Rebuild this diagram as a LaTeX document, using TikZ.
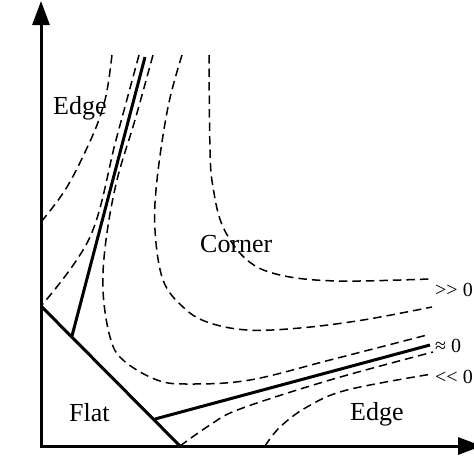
\documentclass[tikz,border=0pt]{standalone}
\usepackage{fontspec}
\setmainfont{Liberation Serif}[Ligatures=TeXOff]
\usetikzlibrary{arrows.meta}

\begin{document}
\begin{tikzpicture}[
    x=1pt, y=-1pt,
    axis/.style={line width=3pt, {Triangle[length=24pt,width=17pt]}-{Triangle[length=24pt,width=17pt]}},
    bound/.style={line width=3pt},
    level/.style={line width=1.5pt, dash pattern=on 8.5pt off 5pt},
    region/.style={font=\fontsize{26}{30}\selectfont, inner sep=0pt, anchor=base west},
    sign/.style={font=\fontsize{20}{22}\selectfont, inner sep=0pt, anchor=base west}
  ]
  \useasboundingbox (0,0) rectangle (474,474);

  % axes
  \coordinate (o) at (41,446);
  \coordinate (ytip) at (41,1);
  \coordinate (xtip) at (482,446);
  \draw [axis] (ytip) -- (o) -- (xtip);

  % flat boundary and edge lines
  \coordinate (fa) at (41,306);
  \coordinate (fb) at (180,446);
  \coordinate (la) at (72,336);
  \coordinate (lb) at (145,57);
  \coordinate (ra) at (155,419);
  \coordinate (rb) at (430,345);
  \draw [bound] (fa) -- (fb);
  \draw [bound] (la) -- (lb);
  \draw [bound] (ra) -- (rb);

  % level curves
  \draw [level] plot [smooth, tension=0.6] coordinates {(112,55) (108,85) (103,107) (92,137) (67,187) (41,222)};
  \draw [level] plot [smooth, tension=0.6] coordinates {(139,55) (116,140) (90,237) (fa)};
  \draw [level] plot [smooth, tension=0.6] coordinates {(153,55) (135,120) (117,180) (106,240) (103,290) (110,337) (123,360) (157,380) (190,384) (250,380) (330,360) (427,335)};
  \draw [level] plot [smooth, tension=0.6] coordinates {(182,55) (168,107) (157,180) (155,230) (163,280) (183,307) (207,322) (247,330) (300,328) (363,320) (432,307)};
  \draw [level] plot [smooth, tension=0.6] coordinates {(209,55) (210,150) (213,187) (223,227) (247,260) (280,275) (337,281) (429,279)};
  \draw [level] plot [smooth, tension=0.6] coordinates {(fb) (210,425) (240,409) (330,380) (433,352)};
  \draw [level] plot [smooth, tension=0.6] coordinates {(265,446) (280,427) (307,407) (347,390) (432,374)};

  % region labels
  \node (edgetop) [region] at (53,114) {Edge};
  \node (corner) [region] at (200,252) {Corner};
  \node (flat) [region] at (69,421) {Flat};
  \node (edgebot) [region] at (350,420) {Edge};

  % response labels
  \node (rpos) [sign] at (435,296) {>> 0};
  \node (rzero) [sign] at (435,352) {≈ 0};
  \node (rneg) [sign] at (435,383) {<< 0};
\end{tikzpicture}
\end{document}
